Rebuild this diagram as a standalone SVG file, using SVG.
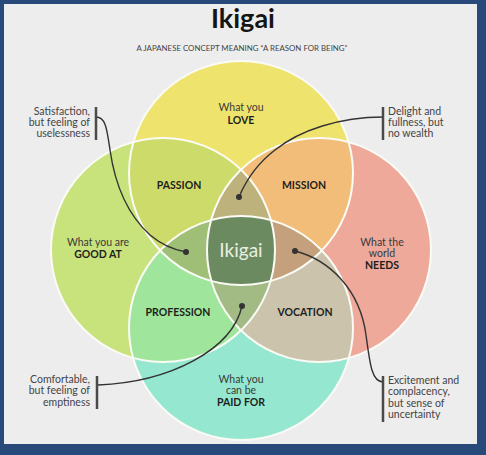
<svg xmlns="http://www.w3.org/2000/svg" width="486" height="455" viewBox="0 0 486 455">
<style>
.lbl{font-family:Lato,"Open Sans","Liberation Sans",sans-serif;font-size:10.5px;fill:#3a3a3a;text-anchor:middle}
.b{font-weight:700;fill:#1e1e1e}
.ann{font-family:Lato,"Open Sans","Liberation Sans",sans-serif;font-size:10.5px;fill:#444}
.r{text-anchor:end}
.bar{stroke:#4a4a4a;stroke-width:2.5;fill:none}
.ln{stroke:#333;stroke-width:1.4;fill:none}
.dot{fill:#333}
.ring{fill:none;stroke:#fbfbf6;stroke-width:2}
</style>
<defs>
<clipPath id="cA"><circle cx="241" cy="173" r="112"/></clipPath>
<clipPath id="cB"><circle cx="163" cy="250" r="112"/></clipPath>
<clipPath id="cC"><circle cx="319" cy="250" r="112"/></clipPath>
<clipPath id="cD"><circle cx="241" cy="328" r="112"/></clipPath>
</defs>
<rect width="486" height="455" fill="#274a7b"/>
<rect x="4" y="4" width="473" height="440" fill="#ededee"/>
<text x="243" y="28" font-family="Lato,'Liberation Sans',sans-serif" font-size="27" font-weight="700" text-anchor="middle" fill="#151515">Ikigai</text>
<text x="242" y="51" font-family="Lato,'Liberation Sans',sans-serif" font-size="7" text-anchor="middle" fill="#444" textLength="211" lengthAdjust="spacingAndGlyphs">A JAPANESE CONCEPT MEANING “A REASON FOR BEING”</text>

<g id="circles">
<circle id="love" cx="241" cy="173" r="112" fill="#eee36c"/>
<circle id="goodat" cx="163" cy="250" r="112" fill="#c8e27c"/>
<circle id="needs" cx="319" cy="250" r="112" fill="#eea99b"/>
<circle id="paidfor" cx="241" cy="328" r="112" fill="#95e8cf"/>
</g>
<g id="overlaps">
<circle id="passion" cx="163" cy="250" r="112" fill="#cddb6b" clip-path="url(#cA)"/>
<circle id="mission" cx="319" cy="250" r="112" fill="#f1bd78" clip-path="url(#cA)"/>
<circle id="vocation" cx="319" cy="250" r="112" fill="#cbc3ab" clip-path="url(#cD)"/>
<circle id="profession" cx="163" cy="250" r="112" fill="#9fe59b" clip-path="url(#cD)"/>
<g clip-path="url(#cA)"><circle cx="163" cy="250" r="112" fill="#bdb17c" clip-path="url(#cC)"/></g>
<g clip-path="url(#cA)"><circle cx="163" cy="250" r="112" fill="#9fbf76" clip-path="url(#cD)"/></g>
<g clip-path="url(#cA)"><circle cx="319" cy="250" r="112" fill="#c4a07c" clip-path="url(#cD)"/></g>
<g clip-path="url(#cB)"><circle cx="319" cy="250" r="112" fill="#a2ba84" clip-path="url(#cD)"/></g>
<g id="ikigai" clip-path="url(#cA)"><g clip-path="url(#cD)"><circle cx="163" cy="250" r="112" fill="#6c8a60" clip-path="url(#cC)"/></g></g>
</g>
<g id="rings">
<circle class="ring" cx="241" cy="173" r="112"/>
<circle class="ring" cx="163" cy="250" r="112"/>
<circle class="ring" cx="319" cy="250" r="112"/>
<circle class="ring" cx="241" cy="328" r="112"/>
</g>

<g id="labels">
<text class="lbl" x="241" y="111">What you</text>
<text class="lbl b" x="241" y="124">LOVE</text>
<text class="lbl b" x="179" y="189">PASSION</text>
<text class="lbl b" x="304" y="189">MISSION</text>
<text class="lbl" x="98" y="246">What you are</text>
<text class="lbl b" x="98" y="258">GOOD AT</text>
<text class="lbl" x="382" y="246">What the</text>
<text class="lbl" x="382" y="257">world</text>
<text class="lbl b" x="382" y="269">NEEDS</text>
<text class="lbl b" x="178" y="316">PROFESSION</text>
<text class="lbl b" x="305" y="316">VOCATION</text>
<text class="lbl" x="241" y="383">What you</text>
<text class="lbl" x="241" y="394">can be</text>
<text class="lbl b" x="241" y="406">PAID FOR</text>
<text x="241" y="257" font-family="Lato,'Liberation Sans',sans-serif" font-size="19" text-anchor="middle" fill="#e9efe2">Ikigai</text>
</g>

<g id="connectors">
<path class="ln" d="M96,117 C106,117 107,130 110,150 C115,185 128,215 150,235 C162,245 175,250 186,252"/>
<path class="ln" d="M383,117 C340,117 300,130 275,150 C258,163 247,178 239,197"/>
<path class="ln" d="M98,385 C170,382 232,350 242,306"/>
<path class="ln" d="M295,251 C330,260 360,290 366,335 C370,365 372,382 383,382"/>
<circle class="dot" cx="186" cy="252" r="3"/>
<circle class="dot" cx="239" cy="197" r="3"/>
<circle class="dot" cx="242" cy="306" r="3"/>
<circle class="dot" cx="295" cy="251" r="3"/>
</g>

<g id="note-tl">
<line class="bar" x1="96" y1="107" x2="96" y2="140"/>
<text class="ann r" x="90" y="115">Satisfaction,</text>
<text class="ann r" x="90" y="126">but feeling of</text>
<text class="ann r" x="90" y="137">uselessness</text>
</g>
<g id="note-tr">
<line class="bar" x1="383" y1="107" x2="383" y2="140"/>
<text class="ann" x="388" y="115">Delight and</text>
<text class="ann" x="388" y="126">fullness, but</text>
<text class="ann" x="388" y="137">no wealth</text>
</g>
<g id="note-bl">
<line class="bar" x1="97" y1="376" x2="97" y2="409"/>
<text class="ann r" x="90" y="383">Comfortable,</text>
<text class="ann r" x="90" y="394">but feeling of</text>
<text class="ann r" x="90" y="406">emptiness</text>
</g>
<g id="note-br">
<line class="bar" x1="383" y1="376" x2="383" y2="422"/>
<text class="ann" x="388" y="384">Excitement and</text>
<text class="ann" x="388" y="395">complacency,</text>
<text class="ann" x="388" y="407">but sense of</text>
<text class="ann" x="388" y="418">uncertainty</text>
</g>
</svg>
